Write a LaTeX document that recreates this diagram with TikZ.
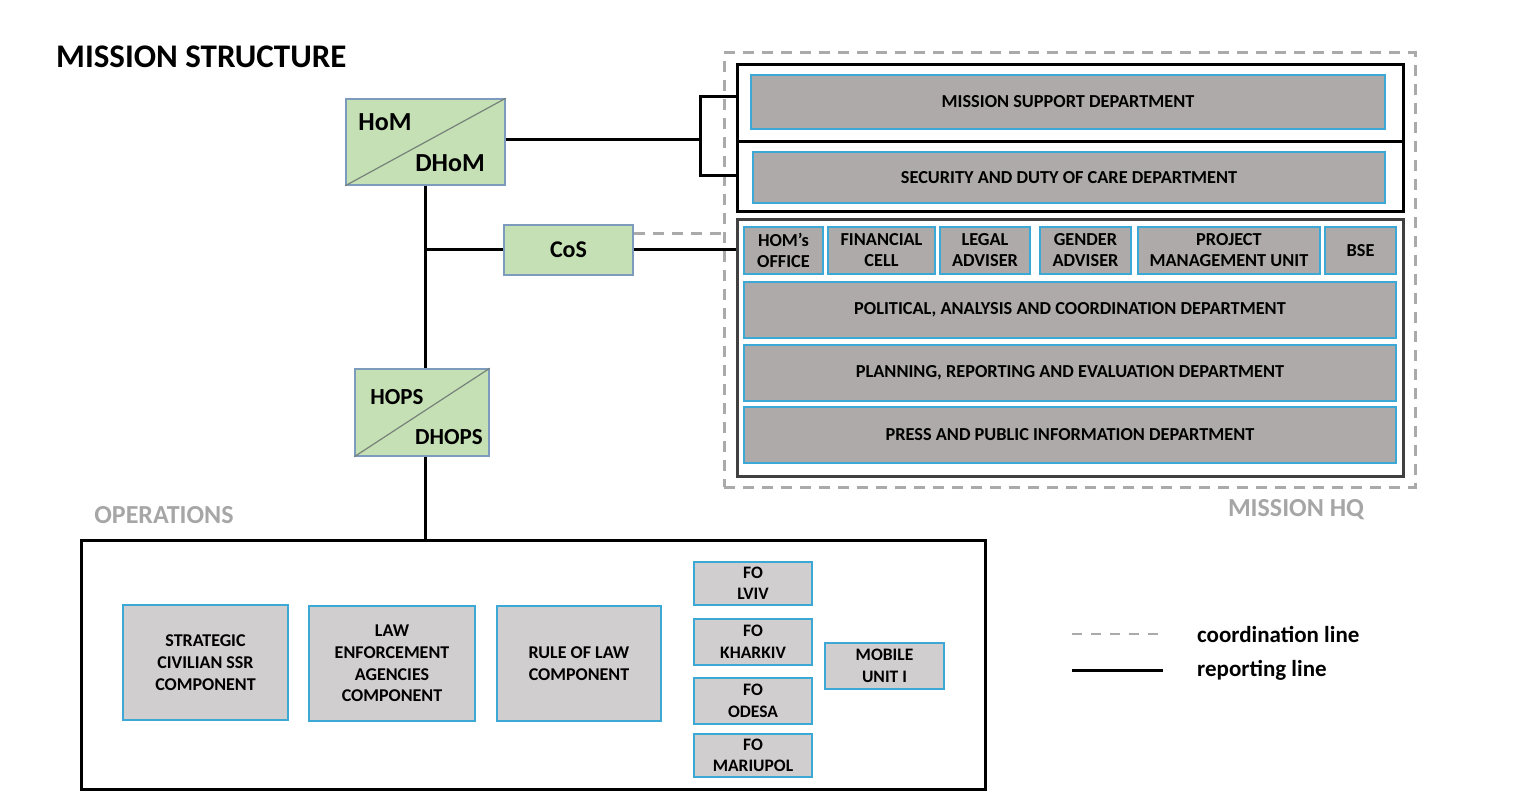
\documentclass[tikz,border=0pt]{standalone}
\usepackage{fontspec}
\setmainfont{Carlito}
\usepackage{xcolor}
\usepackage{tikz}

\definecolor{leadgreen}{RGB}{197,224,180}
\definecolor{leadedge}{RGB}{125,155,188}
\definecolor{diaggray}{RGB}{118,130,122}
\definecolor{cyanedge}{RGB}{60,168,214}
\definecolor{deptgray}{RGB}{174,170,170}
\definecolor{unitgray}{RGB}{208,206,206}
\definecolor{dashgray}{RGB}{170,170,170}
\definecolor{framegray}{RGB}{64,64,64}
\definecolor{zonegray}{RGB}{166,166,166}

\newcommand{\hqfont}{\bfseries\fontsize{18.3}{21}\selectfont}
\newcommand{\opsfont}{\bfseries\fontsize{18}{21.7}\selectfont}
\newcommand{\fofont}{\bfseries\fontsize{17.5}{21.5}\selectfont}

\begin{document}
\begin{tikzpicture}[x=1pt,y=-1pt,
  report/.style={line width=3pt},
  coordline/.style={draw=dashgray,line width=3pt,dash pattern=on 11pt off 8pt},
  lead/.style={draw=leadedge,fill=leadgreen,line width=1.5pt,inner sep=0pt},
  frame/.style={draw,line width=3pt,inner sep=0pt},
  dept/.style={draw=cyanedge,fill=deptgray,line width=2pt,inner sep=0pt,align=center,font=\hqfont},
  unit/.style={draw=cyanedge,fill=unitgray,line width=2pt,inner sep=0pt,align=center},
  zonelabel/.style={text=zonegray,font=\bfseries\fontsize{26}{28}\selectfont}]
\useasboundingbox (0,0) rectangle (1536,794);

\node[anchor=west,inner sep=0pt,font=\bfseries\fontsize{33}{36}\selectfont] (title) at (56,57) {MISSION STRUCTURE};

\node[lead,minimum width=159pt,minimum height=86pt] (hom) at (425.5,142) {};
\draw[diaggray,line width=1.2pt] (hom.south west) -- (hom.north east);
\node[font=\bfseries\fontsize{26}{28}\selectfont] (homname) at (385,122) {HoM};
\node[font=\bfseries\fontsize{26}{28}\selectfont] (dhomname) at (450,163) {DHoM};

\node[lead,minimum width=129pt,minimum height=50pt,font=\bfseries\fontsize{24}{26}\selectfont] (cos) at (568.5,250) {CoS};

\node[lead,minimum width=134pt,minimum height=87pt] (hops) at (422,412.5) {};
\draw[diaggray,line width=1.2pt] (hops.south west) -- (hops.north east);
\node[font=\bfseries\fontsize{23}{25}\selectfont] (hopsname) at (397,397) {HOPS};
\node[font=\bfseries\fontsize{23}{25}\selectfont] (dhopsname) at (449,437) {DHOPS};

\node[coordline,minimum width=691pt,minimum height=434pt,inner sep=0pt] (hqzone) at (1069.5,270) {};
\node[zonelabel] (hqname) at (1296,510) {MISSION HQ};

\node[frame,minimum width=666pt,minimum height=77pt] (msdframe) at (1070,103.5) {};
\node[frame,minimum width=666pt,minimum height=70pt] (sdcframe) at (1070,177) {};
\node[dept,minimum width=634pt,minimum height=54pt] (msd) at (1068,102) {MISSION SUPPORT DEPARTMENT};
\node[dept,minimum width=632pt,minimum height=51pt] (sdc) at (1069,177.5) {SECURITY AND DUTY OF CARE DEPARTMENT};

\node[frame,draw=framegray,fill=white,minimum width=666pt,minimum height=256pt] (hqframe) at (1070,348) {};
\node[dept,minimum width=79pt,minimum height=47pt] (homoffice) at (783.5,250.5) {HOM’s\\OFFICE};
\node[dept,minimum width=107pt,minimum height=47pt] (fincell) at (881.5,250.5) {FINANCIAL\\CELL};
\node[dept,minimum width=90pt,minimum height=47pt] (legal) at (985,250.5) {LEGAL\\ADVISER};
\node[dept,minimum width=91pt,minimum height=47pt] (gender) at (1085.5,250.5) {GENDER\\ADVISER};
\node[dept,minimum width=182pt,minimum height=47pt] (pmu) at (1229,250.5) {PROJECT\\MANAGEMENT UNIT};
\node[dept,minimum width=71pt,minimum height=47pt] (bse) at (1360.5,250.5) {BSE};
\node[dept,minimum width=652pt,minimum height=56pt] (pacd) at (1070,310) {POLITICAL, ANALYSIS AND COORDINATION DEPARTMENT};
\node[dept,minimum width=652pt,minimum height=56pt] (pred) at (1070,373) {PLANNING, REPORTING AND EVALUATION DEPARTMENT};
\node[dept,minimum width=652pt,minimum height=56pt] (ppid) at (1070,435) {PRESS AND PUBLIC INFORMATION DEPARTMENT};

\node[zonelabel] (opsname) at (164,515) {OPERATIONS};
\node[frame,minimum width=904pt,minimum height=249pt] (ops) at (533,664.5) {};
\node[unit,font=\opsfont,minimum width=165pt,minimum height=115pt] (ssr) at (205.5,662.5) {STRATEGIC\\CIVILIAN SSR\\COMPONENT};
\node[unit,font=\opsfont,minimum width=166pt,minimum height=115pt] (lea) at (392,663.5) {LAW\\ENFORCEMENT\\AGENCIES\\COMPONENT};
\node[unit,font=\opsfont,minimum width=164pt,minimum height=115pt] (rol) at (579,663.5) {RULE OF LAW\\COMPONENT};
\node[unit,font=\fofont,minimum width=118pt,minimum height=43pt] (folviv) at (753,583.5) {FO\\LVIV};
\node[unit,font=\fofont,minimum width=118pt,minimum height=46pt] (fokharkiv) at (753,642) {FO\\KHARKIV};
\node[unit,font=\fofont,minimum width=118pt,minimum height=46pt] (foodesa) at (753,701) {FO\\ODESA};
\node[unit,font=\fofont,minimum width=118pt,minimum height=43pt] (fomariupol) at (753,755.5) {FO\\MARIUPOL};
\node[unit,font=\fofont,minimum width=119pt,minimum height=46pt] (mobile) at (884.5,666) {MOBILE\\UNIT I};

\coordinate (brk) at (700,140);
\coordinate (jn) at (hom.south |- cos.west);
\draw[report] (hom.east |- brk) -- (brk);
\draw[report] ([yshift=6.5pt]msdframe.west) -| (brk) |- ([yshift=1pt]sdcframe.west);
\draw[report] (hom.south) -- (hom.south |- hops.north);
\draw[report] (jn) -- (cos.west);
\draw[report] (cos.east) -- (cos.east -| hqframe.west);
\draw[coordline] ([yshift=16pt]cos.east) -- ([yshift=16pt]cos.east -| hqzone.west);
\draw[report] (hom.south |- hops.south) -- (hom.south |- ops.north);

\coordinate (crdA) at (1072,634);
\coordinate (crdB) at (1163,634);
\coordinate (repA) at (1072,670);
\coordinate (repB) at (1163,670);
\draw[draw=dashgray,line width=2.5pt,dash pattern=on 10pt off 9pt] (crdA) -- (crdB);
\draw[report] (repA) -- (repB);
\node[anchor=west,inner sep=0pt,font=\bfseries\fontsize{23}{25}\selectfont] (crdtext) at (1197,634) {coordination line};
\node[anchor=west,inner sep=0pt,font=\bfseries\fontsize{23}{25}\selectfont] (reptext) at (1197,670) {reporting line};
\end{tikzpicture}
\end{document}
